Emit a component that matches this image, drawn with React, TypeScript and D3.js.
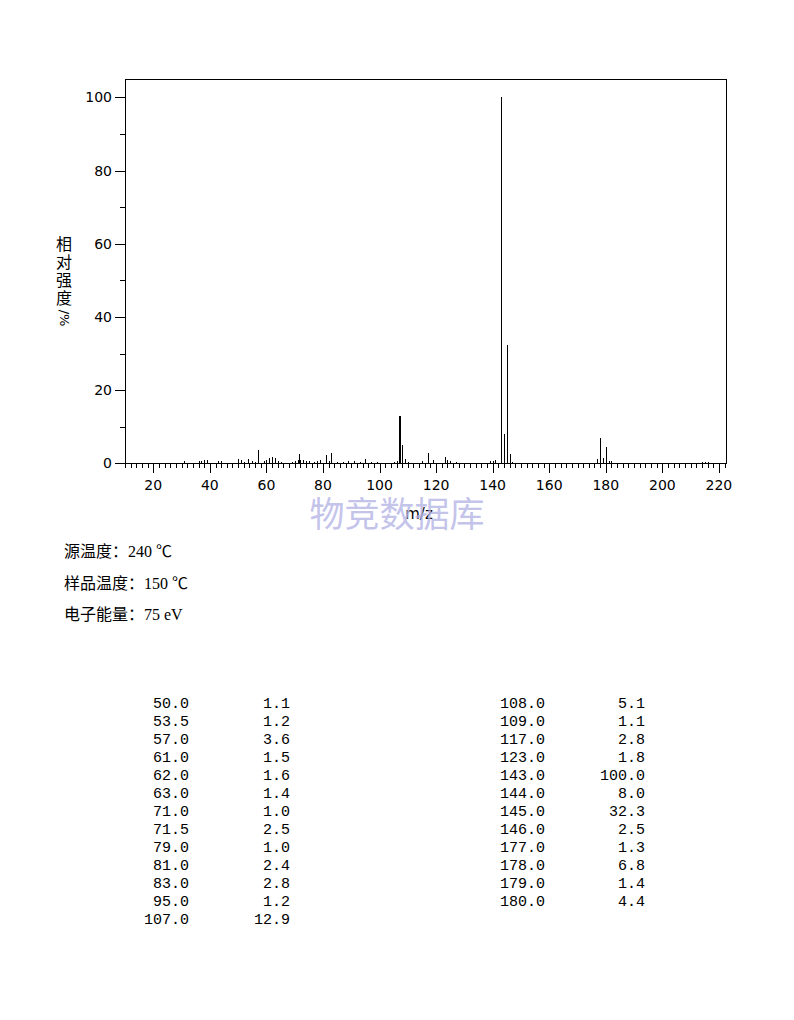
import React from 'react';
import * as d3 from 'd3';

// peaks listed in the table (m/z, relative intensity %)
const tableMz = [50, 53.5, 57, 61, 62, 63, 71, 71.5, 79, 81, 83, 95, 107, 108, 109, 117, 123, 143, 144, 145, 146, 177, 178, 179, 180];
const tableInt = [1.1, 1.2, 3.6, 1.5, 1.6, 1.4, 1.0, 2.5, 1.0, 2.4, 2.8, 1.2, 12.9, 5.1, 1.1, 2.8, 1.8, 100.0, 8.0, 32.3, 2.5, 1.3, 6.8, 1.4, 4.4];

// small peaks below 1 %
const minorMz = [31, 36, 37, 38, 39, 43, 44, 51, 52, 55, 56, 59, 60, 64, 65, 69, 70, 72, 73, 74, 75, 77, 78, 82, 85, 87, 89, 91, 93, 97, 99, 105, 106, 110, 115, 119, 124, 125, 127, 139, 140, 141, 147, 181, 182, 214, 215, 216];
const minorInt = [0.5, 0.6, 0.5, 0.8, 0.8, 0.6, 0.7, 0.8, 0.4, 0.7, 0.4, 0.6, 0.8, 0.5, 0.3, 0.4, 0.5, 0.9, 0.8, 0.5, 0.7, 0.4, 0.6, 0.5, 0.3, 0.4, 0.6, 0.6, 0.4, 0.3, 0.4, 0.4, 0.5, 0.3, 0.6, 0.9, 0.9, 0.6, 0.3, 0.6, 0.5, 0.8, 0.3, 0.6, 0.7, 0.3, 0.3, 0.3];

const yTicks = [0, 20, 40, 60, 80, 100];
const xTicks = [20, 40, 60, 80, 100, 120, 140, 160, 180, 200, 220];

const infoLines = ['源温度：240 ℃', '样品温度：150 ℃', '电子能量：75 eV'];

const left = 125, right = 726, top = 79, bottom = 463.3;

const App: React.FC = () => {
  const x = d3.scaleLinear().domain([10, 222.5]).range([left, right]);
  const y = d3.scaleLinear().domain([0, 105]).range([bottom, top]);

  const peaks = [
    ...tableMz.map((m, i) => ({ mz: m, v: tableInt[i] })),
    ...minorMz.map((m, i) => ({ mz: m, v: minorInt[i] })),
  ];

  const xMinor = d3.range(10, 223, 2).filter((t) => t % 20 !== 0);
  const yMinor = d3.range(10, 101, 20);
  const px = (v: number) => Math.round(v) + 0.5;

  const fmt = (v: number) => v.toFixed(1);
  const nLeft = 13;
  const leftRows = tableMz.slice(0, nLeft).map((m, i) => [m, tableInt[i]]);
  const rightRows = tableMz.slice(nLeft).map((m, i) => [m, tableInt[i + nLeft]]);

  const axisFont = '"DejaVu Sans", sans-serif';
  const monoFont = '"Liberation Mono", "DejaVu Sans Mono", monospace';

  return (
    <div style={{ position: 'absolute', left: 0, top: 0 }}>
      <svg width={794} height={1020} style={{ display: 'block', background: '#fff' }}>
        <g shapeRendering="crispEdges" stroke="#000" strokeWidth={1}>
          <rect x={px(left)} y={px(top)} width={Math.round(right - left)} height={Math.round(bottom - top)} fill="none" />
          {yTicks.map((t) => (
            <line key={'yt' + t} x1={left - 10} x2={left} y1={px(y(t))} y2={px(y(t))} />
          ))}
          {yMinor.map((t) => (
            <line key={'ym' + t} x1={left - 5} x2={left} y1={px(y(t))} y2={px(y(t))} />
          ))}
          {xTicks.map((t) => (
            <line key={'xt' + t} x1={px(x(t))} x2={px(x(t))} y1={bottom} y2={bottom + 10} />
          ))}
          {xMinor.map((t) => (
            <line key={'xm' + t} x1={px(x(t))} x2={px(x(t))} y1={bottom} y2={bottom + 5} />
          ))}
          {peaks.map((p, i) => (
            <line key={'p' + i} x1={px(x(p.mz))} x2={px(x(p.mz))} y1={bottom} y2={y(p.v)}
              strokeWidth={p.v > 10 && p.v < 20 ? 2 : 1} />
          ))}
        </g>
        <g fontFamily={axisFont} fontSize={14} fill="#000">
          {yTicks.map((t) => (
            <text key={'yl' + t} x={left - 13} y={y(t)} dy="0.36em" textAnchor="end">{t}</text>
          ))}
          {xTicks.map((t) => (
            <text key={'xl' + t} x={x(t)} y={490} textAnchor="middle">{t}</text>
          ))}
          <text x={419} y={519} textAnchor="middle" fontSize={15}>m/z</text>
        </g>
        <g fontFamily='"Noto Sans CJK SC", sans-serif' fontSize={16} fill="#000" textAnchor="middle">
          {['相', '对', '强', '度'].map((c, i) => (
            <text key={c} x={64} y={250 + i * 18}>{c}</text>
          ))}
          <text transform="translate(60,318) rotate(90)" textAnchor="middle" fontFamily={axisFont} fontSize={13}>/%</text>
        </g>
        <text x={397} y={527} textAnchor="middle" fontFamily='"Noto Sans CJK SC", sans-serif' fontSize={35} fill="#b4b4e6" fillOpacity={0.8}>物竞数据库</text>
        <g fontFamily='"Liberation Serif", "Noto Sans CJK SC", serif' fontSize={16} fill="#000">
          {infoLines.map((s, i) => (
            <text key={s} x={64} y={557 + i * 31.5}>{s}</text>
          ))}
        </g>
        <g fontFamily={monoFont} fontSize={15} fill="#000" textAnchor="end">
          {leftRows.map((r, i) => (
            <g key={'l' + i}>
              <text x={189} y={708 + i * 18}>{fmt(r[0])}</text>
              <text x={290} y={708 + i * 18}>{fmt(r[1])}</text>
            </g>
          ))}
          {rightRows.map((r, i) => (
            <g key={'r' + i}>
              <text x={545} y={708 + i * 18}>{fmt(r[0])}</text>
              <text x={645} y={708 + i * 18}>{fmt(r[1])}</text>
            </g>
          ))}
        </g>
      </svg>
    </div>
  );
};

export default App;
